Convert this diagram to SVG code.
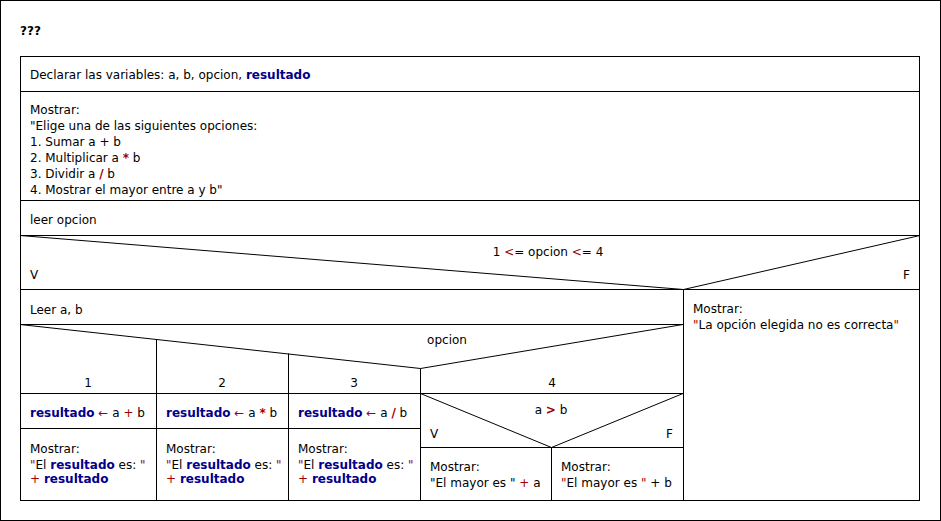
<svg xmlns="http://www.w3.org/2000/svg" width="941" height="521" viewBox="0 0 941 521">
<style>
text{font-family:"DejaVu Sans",sans-serif;font-size:12px;fill:#000}
.k{fill:#00008b;font-weight:bold}
.r{fill:#a00000}
.m{text-anchor:middle}
line,rect{stroke:#000;stroke-width:1;fill:none}
</style>
<rect x="0.5" y="0.5" width="940" height="520" fill="#fff" style="fill:#fff"/>
<text x="20" y="35" style="font-weight:bold">???</text>
<g id="connectors">
<rect x="20.5" y="56.5" width="899" height="444"/>
<line x1="20" y1="91.5" x2="920" y2="91.5"/>
<line x1="20" y1="200.5" x2="920" y2="200.5"/>
<line x1="20" y1="235.5" x2="920" y2="235.5"/>
<line x1="20" y1="235.5" x2="683.5" y2="289.5"/>
<line x1="683.5" y1="289.5" x2="920" y2="235.5"/>
<line x1="20" y1="289.5" x2="920" y2="289.5"/>
<line x1="683.5" y1="289.5" x2="683.5" y2="500"/>
<line x1="20" y1="324.5" x2="683" y2="324.5"/>
<line x1="20" y1="324.5" x2="420.5" y2="368.5"/>
<line x1="420.5" y1="368.5" x2="683" y2="324.5"/>
<line x1="156.5" y1="339" x2="156.5" y2="500"/>
<line x1="288.5" y1="353.5" x2="288.5" y2="500"/>
<line x1="420.5" y1="368.5" x2="420.5" y2="500"/>
<line x1="20" y1="393.5" x2="683" y2="393.5"/>
<line x1="20" y1="428.5" x2="420" y2="428.5"/>
<line x1="420.5" y1="393.5" x2="551.5" y2="447.5"/>
<line x1="551.5" y1="447.5" x2="683" y2="393.5"/>
<line x1="420" y1="447.5" x2="683" y2="447.5"/>
<line x1="551.5" y1="447.5" x2="551.5" y2="500"/>
</g>
<g id="declarar"><text x="30" y="79">Declarar las variables: a, b, opcion, <tspan class="k">resultado</tspan></text></g>
<g id="mostrar1">
<text x="30" y="114">Mostrar:</text>
<text x="30" y="130">"Elige una de las siguientes opciones:</text>
<text x="30" y="146">1. Sumar a + b</text>
<text x="30" y="162">2. Multiplicar a <tspan class="r" style="font-weight:bold">*</tspan> b</text>
<text x="30" y="178">3. Dividir a <tspan class="r" style="font-weight:bold">/</tspan> b</text>
<text x="30" y="194">4. Mostrar el mayor entre a y b"</text>
</g>
<g id="leer"><text x="30" y="224">leer opcion</text></g>
<g id="if1">
<text x="548" y="256" class="m">1 <tspan class="r">&lt;</tspan>= opcion <tspan class="r">&lt;</tspan>= 4</text>
<text x="30" y="279">V</text>
<text x="903" y="279">F</text>
</g>
<g id="else1">
<text x="693" y="313">Mostrar:</text>
<text x="693" y="329"><tspan class="r">"</tspan>La opción elegida no es correcta<tspan class="r">"</tspan></text>
</g>
<g id="leerab"><text x="30" y="314">Leer a, b</text></g>
<g id="case">
<text x="447" y="344" class="m">opcion</text>
<text x="88" y="387" class="m">1</text>
<text x="222" y="387" class="m">2</text>
<text x="354" y="387" class="m">3</text>
<text x="552" y="387" class="m">4</text>
</g>
<g id="c1">
<text x="30" y="417"><tspan class="k">resultado</tspan> <tspan class="r">←</tspan> a <tspan class="r">+</tspan> b</text>
<text x="30" y="453">Mostrar:</text>
<text x="30" y="469"><tspan class="r">"</tspan>El <tspan class="k">resultado</tspan> es: <tspan class="r">"</tspan></text>
<text x="30" y="483"><tspan class="r">+</tspan> <tspan class="k">resultado</tspan></text>
</g>
<g id="c2">
<text x="166" y="417"><tspan class="k">resultado</tspan> <tspan class="r">←</tspan> a <tspan class="r" style="font-weight:bold">*</tspan> b</text>
<text x="166" y="453">Mostrar:</text>
<text x="166" y="469"><tspan class="r">"</tspan>El <tspan class="k">resultado</tspan> es: <tspan class="r">"</tspan></text>
<text x="166" y="483"><tspan class="r">+</tspan> <tspan class="k">resultado</tspan></text>
</g>
<g id="c3">
<text x="298" y="417"><tspan class="k">resultado</tspan> <tspan class="r">←</tspan> a <tspan class="r" style="font-weight:bold">/</tspan> b</text>
<text x="298" y="453">Mostrar:</text>
<text x="298" y="469"><tspan class="r">"</tspan>El <tspan class="k">resultado</tspan> es: <tspan class="r">"</tspan></text>
<text x="298" y="483"><tspan class="r">+</tspan> <tspan class="k">resultado</tspan></text>
</g>
<g id="c4">
<text x="551" y="414" class="m">a <tspan class="r" style="font-weight:bold">&gt;</tspan> b</text>
<text x="430" y="438">V</text>
<text x="666" y="438">F</text>
<text x="430" y="471">Mostrar:</text>
<text x="430" y="487">"El mayor es " <tspan class="r">+</tspan> a</text>
<text x="561" y="471">Mostrar:</text>
<text x="561" y="487"><tspan class="r">"</tspan>El mayor es <tspan class="r">"</tspan> + b</text>
</g>
</svg>
